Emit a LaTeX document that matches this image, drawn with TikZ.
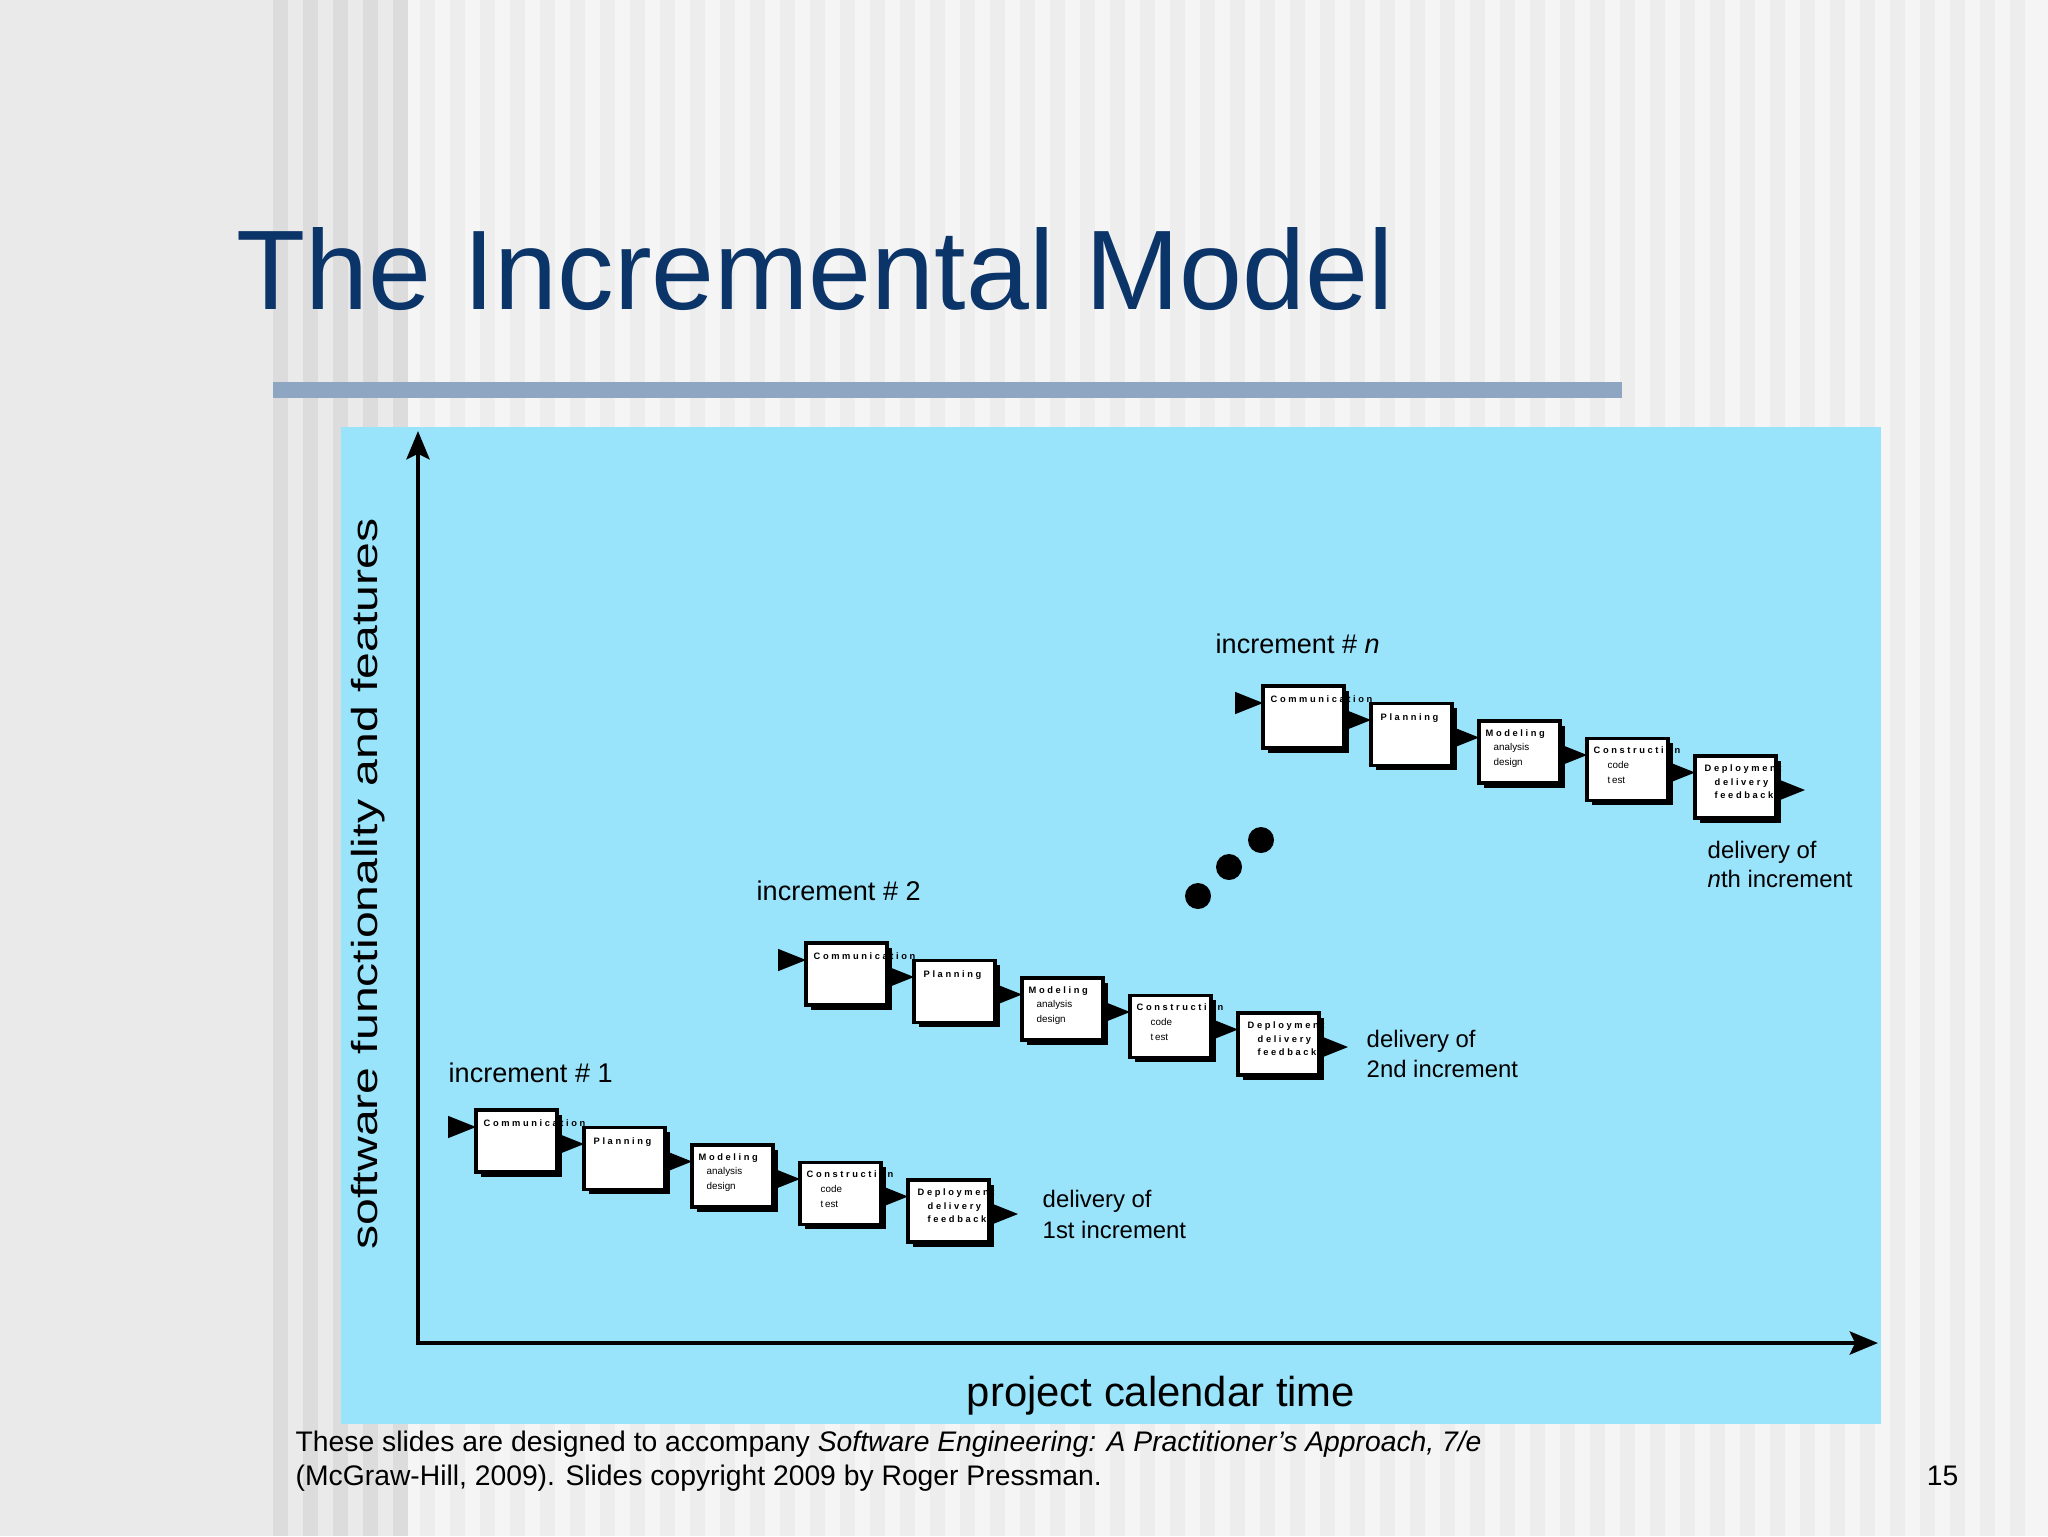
\documentclass[tikz,border=0pt]{standalone}
\usepackage{fontspec}
\setmainfont{Liberation Sans}
\newfontfamily\stagefont[LetterSpace=28]{Liberation Sans}
\newfontfamily\widefont[FakeStretch=1.33]{Liberation Sans}
\usepackage{tikz}
\usetikzlibrary{arrows.meta,positioning,calc,shadows}
\definecolor{slidegray}  {HTML}{EAEAEA}
\definecolor{stripedark} {HTML}{DCDCDC}
\definecolor{slidelight} {HTML}{F5F5F5}
\definecolor{stripelight}{HTML}{EDEDED}
\definecolor{titlenavy}  {HTML}{0B3468}
\definecolor{rulebar}    {HTML}{8FA6C2}
\definecolor{panelblue}  {HTML}{99E3FB}

% one increment = five framework activities, name prefix #1, top left corner (#2,#3)
\newcommand{\incrementrow}[3]{%
  \node[stagebox,anchor=north west] (#1com) at (#2,#3) {};
  \node[stagebox,right=2.7mm of #1com,yshift=-1.75mm] (#1pla) {};
  \node[stagebox,right=2.7mm of #1pla,yshift=-1.75mm] (#1mod) {};
  \node[stagebox,right=2.7mm of #1mod,yshift=-1.75mm] (#1con) {};
  \node[stagebox,right=2.7mm of #1con,yshift=-1.75mm] (#1dep) {};
  % activity names
  \node[stagehead] (#1comt) at ($(#1com.north west)+(7,16)$) {Communication};
  \node[stagehead] (#1plat) at ($(#1pla.north west)+(9,17)$) {Planning};
  \node[stagehead] (#1modt) at ($(#1mod.north west)+(6,15)$) {Modeling};
  \node[stageitem] (#1moda) at ($(#1mod.north west)+(14,29)$) {analysis};
  \node[stageitem] (#1modb) at ($(#1mod.north west)+(14,44)$) {design};
  \node[stagehead] (#1cont) at ($(#1con.north west)+(6,15)$) {Construction};
  \node[stageitem] (#1cona) at ($(#1con.north west)+(20,30)$) {code};
  \node[stageitem] (#1conb) at ($(#1con.north west)+(20,45)$) {t\,est};
  \node[stagehead] (#1dept) at ($(#1dep.north west)+(9,15)$) {Deployment};
  \node[stagehead] (#1depa) at ($(#1dep.north west)+(19,29)$) {delivery};
  \node[stagehead] (#1depb) at ($(#1dep.north west)+(19,42)$) {feedback};
  % wedges
  \coordinate (#1in) at ($(#1com.north west)+(-28,17)$);
  \draw[flow] (#1in) -- ($(#1com.north west)+(0,17)$);
  \draw[flow] ($(#1com.east)+(0,3)$) -- ($(#1pla.west |- #1com.east)+(0,3)$);
  \draw[flow] ($(#1pla.east)+(0,3)$) -- ($(#1mod.west |- #1pla.east)+(0,3)$);
  \draw[flow] ($(#1mod.east)+(0,3)$) -- ($(#1con.west |- #1mod.east)+(0,3)$);
  \draw[flow] ($(#1con.east)+(0,3)$) -- ($(#1dep.west |- #1con.east)+(0,3)$);
  \coordinate (#1out) at ($(#1dep.east)+(29,3)$);
  \draw[flow] ($(#1dep.east)+(0,3)$) -- (#1out);
}

\begin{document}
\begin{tikzpicture}[x=0.1mm,y=-0.1mm,
    stagebox/.style={draw,fill=white,line width=1pt,inner sep=0,outer sep=0,
      minimum width=8.1mm,minimum height=6.2mm,
      drop shadow={shadow xshift=1.3pt,shadow yshift=-1.3pt,fill=black,opacity=1}},
    stagehead/.style={anchor=base west,inner sep=0,font=\stagefont\bfseries\fontsize{2.65}{3}\selectfont},
    stageitem/.style={anchor=base west,inner sep=0,font=\fontsize{2.8}{3}\selectfont},
    flow/.style={line width=0.4pt,-{Triangle[length=2.8mm,width=2.2mm]}},
    axisline/.style={line width=1.4pt,line cap=rect,-{Stealth[length=8pt,width=6.5pt,inset=1.5pt]}},
    inclabel/.style={anchor=base west,inner sep=0,font=\fontsize{7.7}{9}\selectfont},
    delivlabel/.style={anchor=base west,inner sep=0,font=\fontsize{6.8}{8}\selectfont},
    footline/.style={inner sep=0,font=\fontsize{8.05}{9}\selectfont}]
  \useasboundingbox (0,0) rectangle (2048,1536);
  % slide background with stripes
  \fill[slidegray] (0,0) rectangle (2048,1536);
  \fill[slidelight] (405,0) rectangle (2048,1536);
  \foreach \sx in {273,303,...,393}
    \fill[stripedark] (\sx,0) rectangle ++(15,1536);
  \foreach \sx in {420,450,...,2030}
    \fill[stripelight] (\sx,0) rectangle ++(15,1536);
  % title and rule
  \node[anchor=base west,inner sep=0,text=titlenavy,font=\fontsize{32.2}{38}\selectfont]
    (title) at (236,309) {The Incremental Model};
  \fill[rulebar] (273,382) rectangle (1622,398);
  % chart panel
  \fill[panelblue] (341,427) rectangle (1881,1424);
  \coordinate (origin) at (418,1343);
  \coordinate (ytop) at (418,431);
  \coordinate (xend) at (1878,1343);
  \draw[axisline] (origin) -- (ytop);
  \draw[axisline] (origin) -- (xend);
  \node[rotate=90,inner sep=0,font=\widefont\fontsize{10.3}{12}\selectfont]
    (ylab) at (368,884) {software functionality and features};
  \node[anchor=base,inner sep=0,font=\fontsize{11.9}{14}\selectfont]
    (xlab) at (1161,1406) {project calendar time};
  % increments
  \incrementrow{one}{476}{1110}
  \incrementrow{two}{806}{943}
  \incrementrow{enn}{1263}{686}
  \node[inclabel] (inc1) at (448,1082) {increment \# 1};
  \node[inclabel] (inc2) at (756,900) {increment \# 2};
  \node[inclabel] (incn) at (1215,653) {increment \# \textit{n}};
  \node[delivlabel] (del1a) at (1042,1207) {delivery of};
  \node[delivlabel] (del1b) at (1042,1238) {1st increment};
  \node[delivlabel] (del2a) at (1366,1047) {delivery of};
  \node[delivlabel] (del2b) at (1366,1077) {2nd increment};
  \node[delivlabel] (delna) at (1707,858) {delivery of};
  \node[delivlabel] (delnb) at (1707,887) {\textit{n}th increment};
  % more increments
  \fill (1198,896) circle[radius=1.3mm];
  \fill (1229,867) circle[radius=1.3mm];
  \fill (1261,840) circle[radius=1.3mm];
  % footer
  \node[footline,anchor=base west] (foot1) at (295,1451)
    {These slides are designed to accompany \textit{Software Engineering: A Practitioner’s Approach, 7/e}};
  \node[footline,anchor=base west] (foot2) at (295,1485)
    {(McGraw-Hill, 2009). Slides copyright 2009 by Roger Pressman.};
  \node[footline,anchor=base east] (pagenum) at (1959,1485) {15};
\end{tikzpicture}
\end{document}
